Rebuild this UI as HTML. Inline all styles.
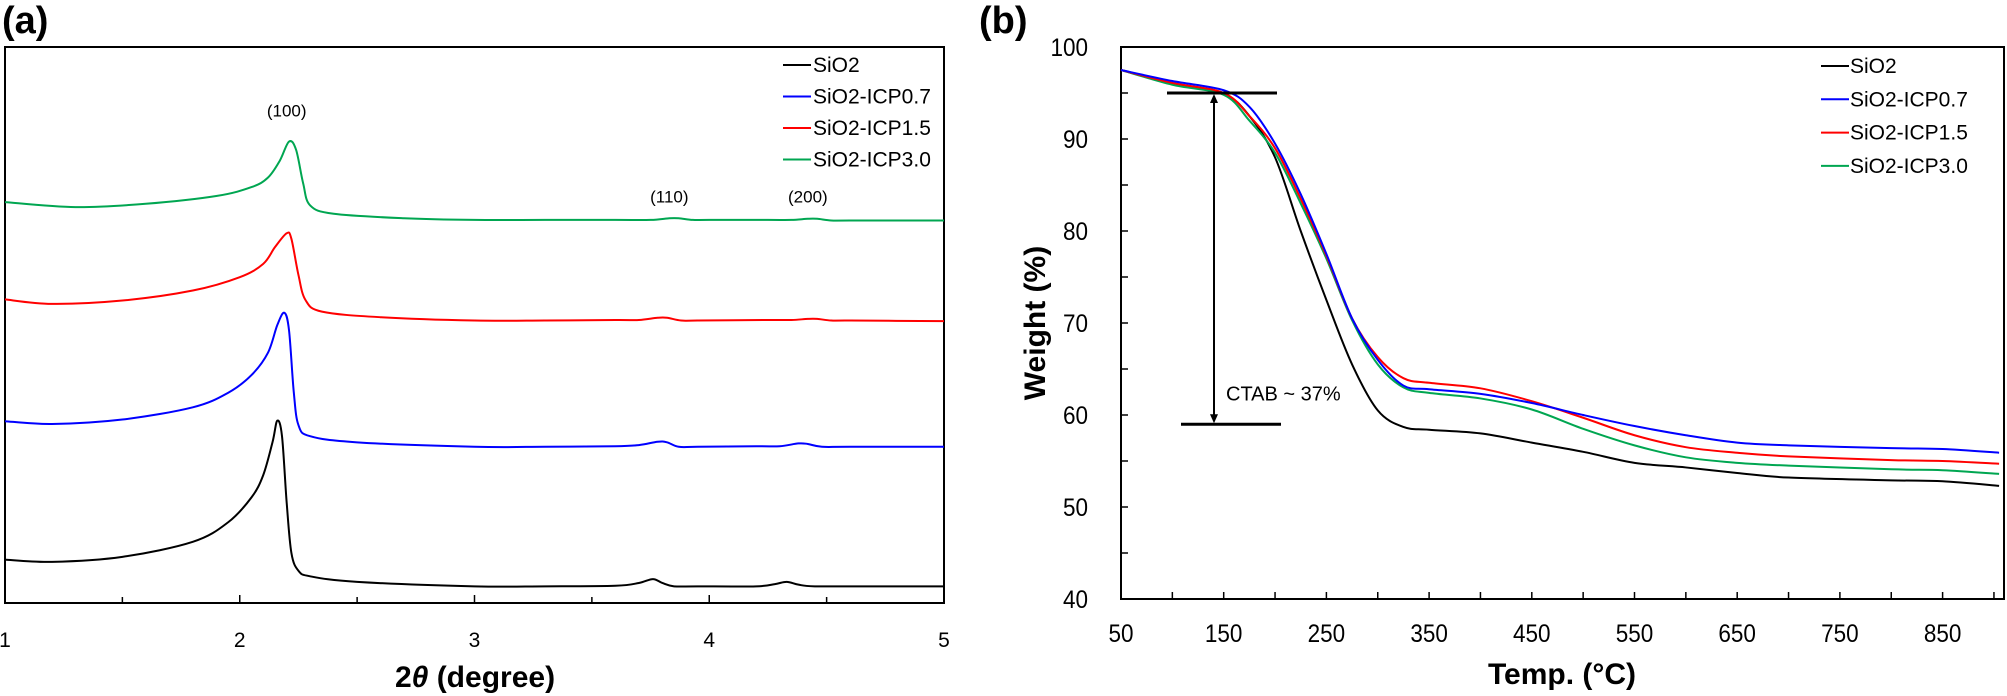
<!DOCTYPE html>
<html><head><meta charset="utf-8">
<style>
html,body{margin:0;padding:0;background:#fff;}
svg{display:block;font-family:"Liberation Sans",Arial,sans-serif;}
</style></head>
<body>
<svg id="fig" width="2007" height="696" viewBox="0 0 2007 696">
  <text x="2" y="33" font-size="38" font-weight="bold">(a)</text>
  <text x="979" y="33" font-size="38" font-weight="bold">(b)</text>
  <g id="pa"></g>
  <g id="pb"></g>
</svg>
<script>
// ---------- Panel (a) XRD data ----------
const xrdTicks = [1, 2, 3, 4, 5];
const xrdNames = ["SiO2", "SiO2-ICP0.7", "SiO2-ICP1.5", "SiO2-ICP3.0"];
const xrdColors = ["#000000", "#0000ff", "#ff0000", "#00a651"];
const xrdX0 = [1.0,1.2,1.5,1.8,1.95,2.05,2.1,2.14,2.16,2.18,2.2,2.22,2.25,2.3,2.5,3.0,3.3,3.6,3.7,3.76,3.8,3.85,3.95,4.2,4.28,4.33,4.38,4.45,4.7,5.0];
const xrdY0 = [7.8,7.4,8.3,11.0,14.5,19,23,29,32.8,30,18,9,5.8,4.8,3.8,3.0,3.0,3.1,3.6,4.3,3.6,3.0,3.0,3.0,3.4,3.8,3.3,3.0,3.0,3.0];
const xrdX1 = [1.0,1.2,1.5,1.8,1.95,2.05,2.12,2.16,2.19,2.21,2.23,2.25,2.3,2.5,3.0,3.3,3.6,3.7,3.78,3.82,3.87,3.95,4.2,4.3,4.38,4.42,4.48,4.6,5.0];
const xrdY1 = [32.7,32.2,33.0,35.2,37.8,41,45,50,52.2,49,38,32,30,28.9,28.1,28.1,28.2,28.4,29.0,28.9,28.1,28.1,28.2,28.2,28.7,28.6,28.1,28.1,28.1];
const xrdX2 = [1.0,1.2,1.5,1.8,2.0,2.1,2.15,2.2,2.22,2.25,2.28,2.35,2.6,3.0,3.3,3.6,3.7,3.78,3.82,3.88,3.95,4.25,4.35,4.42,4.46,4.52,4.6,5.0];
const xrdY2 = [54.6,53.8,54.4,56.2,58.6,61,64,66.5,65.5,59,54.5,52.4,51.4,50.8,50.8,50.9,50.9,51.3,51.3,50.8,50.8,50.9,50.9,51.1,51.1,50.8,50.8,50.7];
const xrdX3 = [1.0,1.3,1.6,1.9,2.05,2.12,2.17,2.21,2.24,2.27,2.3,2.4,2.7,3.0,3.3,3.6,3.75,3.83,3.87,3.93,4.0,4.25,4.35,4.42,4.46,4.52,4.6,5.0];
const xrdY3 = [72.1,71.2,71.8,73.2,74.8,76.5,79.5,83,81.5,75.5,71.5,70.0,69.2,68.9,68.9,68.9,68.9,69.2,69.2,68.9,68.9,68.9,68.9,69.1,69.1,68.8,68.8,68.8];
const xrdPeaks = ["(100)", "(110)", "(200)"];
const xrdPeakX = [2.2, 3.83, 4.42];
const xrdPeakY = [87.5, 72, 72];

// ---------- Panel (b) TGA data ----------
const tgaXTicks = [50,150,250,350,450,550,650,750,850];
const tgaYTicks = [40,50,60,70,80,90,100];
const tgaNames = ["SiO2", "SiO2-ICP0.7", "SiO2-ICP1.5", "SiO2-ICP3.0"];
const tgaColors = ["#000000", "#0000ff", "#ff0000", "#00a651"];
const tgaT = [50,100,150,175,200,225,250,275,300,325,350,400,450,500,550,600,650,700,800,850,905];
const tgaW0 = [97.5,96.0,94.9,92.5,88,80,72.5,65.5,60.5,58.7,58.4,58.0,57.0,56.0,54.8,54.3,53.7,53.2,52.9,52.8,52.3];
const tgaW1 = [97.5,96.3,95.3,93.5,89.5,84,77.5,70.5,66,63.2,62.8,62.3,61.3,60.0,58.8,57.8,57.0,56.7,56.4,56.3,55.9];
const tgaW2 = [97.5,96.1,95.0,92.5,89,83.5,77.3,70.5,66.3,64.0,63.5,62.9,61.5,59.7,57.8,56.5,55.9,55.5,55.1,55.0,54.7];
const tgaW3 = [97.5,95.9,94.8,92,88.5,83,77,70.3,65.5,63,62.4,61.8,60.6,58.5,56.7,55.4,54.8,54.5,54.1,54.0,53.6];
const ctabTop = 95, ctabBottom = 59;

const NS = "http://www.w3.org/2000/svg";
function mk(tag, attrs, parent) {
  const e = document.createElementNS(NS, tag);
  for (const k in attrs) e.setAttribute(k, attrs[k]);
  parent.appendChild(e);
  return e;
}
function smooth(pts) {
  let d = "M" + pts[0][0].toFixed(2) + "," + pts[0][1].toFixed(2);
  for (let i = 0; i < pts.length - 1; i++) {
    const p0 = pts[Math.max(0, i - 1)], p1 = pts[i], p2 = pts[i + 1], p3 = pts[Math.min(pts.length - 1, i + 2)];
    const c1x = p1[0] + (p2[0] - p0[0]) / 6, c1y = p1[1] + (p2[1] - p0[1]) / 6;
    const c2x = p2[0] - (p3[0] - p1[0]) / 6, c2y = p2[1] - (p3[1] - p1[1]) / 6;
    d += " C" + c1x.toFixed(2) + "," + c1y.toFixed(2) + " " + c2x.toFixed(2) + "," + c2y.toFixed(2) + " " + p2[0].toFixed(2) + "," + p2[1].toFixed(2);
  }
  return d;
}

// ===== Panel (a) =====
(function () {
  const g = document.getElementById("pa");
  const L = 5, R = 944, T = 47, B = 603;
  const xs = v => L + (v - 1) / 4 * (R - L);
  const ys = v => B - v / 100 * (B - T);
  const frame = mk("rect", {x: L, y: T, width: R - L, height: B - T, fill: "none", stroke: "#000", "stroke-width": 2}, g);
  
  
  for (let v = 1.5; v < 5; v += 0.5) {
    const major = Math.abs(v - Math.round(v)) < 1e-9;
    const t = mk("line", {x1: xs(v), x2: xs(v), y1: B, y2: B - (major ? 8 : 6), stroke: "#000", "stroke-width": 1.5}, g);
    
    
  }
  xrdTicks.forEach(v => {
    const t = mk("text", {x: xs(v), y: 647, "font-size": 21, "text-anchor": "middle"}, g);
    t.textContent = v;
    
    
  });
  const title = mk("text", {x: 475, y: 687, "font-size": 30, "font-weight": "bold", "text-anchor": "middle"}, g);
  title.innerHTML = '2<tspan font-style="italic">θ</tspan> (degree)';
  
  
  const X = [xrdX0, xrdX1, xrdX2, xrdX3], Y = [xrdY0, xrdY1, xrdY2, xrdY3];
  for (let s = 0; s < 4; s++) {
    const pts = X[s].map((x, i) => [xs(x), ys(Y[s][i])]);
    const p = mk("path", {d: smooth(pts), fill: "none", stroke: xrdColors[s], "stroke-width": 2}, g);
    
    
  }
  xrdPeaks.forEach((lab, i) => {
    const t = mk("text", {x: xs(xrdPeakX[i]), y: ys(xrdPeakY[i]), "font-size": 17, "text-anchor": "middle"}, g);
    t.textContent = lab;
    
    
  });
  xrdNames.forEach((n, i) => {
    const y = 65 + i * 31.5;
    const l = mk("line", {x1: 783, x2: 811, y1: y, y2: y, stroke: xrdColors[i], "stroke-width": 2}, g);
    
    
    const t = mk("text", {x: 813, y: y + 7, "font-size": 21}, g);
    t.textContent = n;
    
    
  });
})();

// ===== Panel (b) =====
(function () {
  const g = document.getElementById("pb");
  const L = 1121, R = 2004, T = 47, B = 599;
  const xs = v => L + (v - 50) * 1.027;
  const ys = v => B - (v - 40) / 60 * (B - T);
  const frame = mk("rect", {x: L, y: T, width: R - L, height: B - T, fill: "none", stroke: "#000", "stroke-width": 2}, g);
  
  
  for (let v = 100; v <= 900; v += 50) {
    const t = mk("line", {x1: xs(v), x2: xs(v), y1: B, y2: B - 7, stroke: "#000", "stroke-width": 1.5}, g);
    
    
  }
  for (let v = 45; v < 100; v += 5) {
    const t = mk("line", {x1: L, x2: L + 7, y1: ys(v), y2: ys(v), stroke: "#000", "stroke-width": 1.5}, g);
    
    
  }
  tgaXTicks.forEach(v => {
    const t = mk("text", {x: xs(v), y: 642, "font-size": 25, "text-anchor": "middle", transform: "translate(" + xs(v) + ",0) scale(0.9,1) translate(" + (-xs(v)) + ",0)"}, g);
    t.textContent = v;
    
    
  });
  tgaYTicks.forEach(v => {
    const t = mk("text", {x: 1088, y: ys(v) + 9, "font-size": 25, "text-anchor": "end", transform: "translate(1088,0) scale(0.9,1) translate(-1088,0)"}, g);
    t.textContent = v;
    
    
  });
  const xt = mk("text", {x: 1562, y: 684, "font-size": 30, "font-weight": "bold", "text-anchor": "middle"}, g);
  xt.textContent = "Temp. (°C)";
  
  
  const yt = mk("text", {x: 0, y: 0, "font-size": 30, "font-weight": "bold", "text-anchor": "middle", transform: "translate(1045,323) rotate(-90)"}, g);
  yt.textContent = "Weight (%)";
  
  
  const W = [tgaW0, tgaW1, tgaW2, tgaW3];
  [0, 3, 2, 1].forEach(s => {
    const pts = tgaT.map((t, i) => [xs(t), ys(W[s][i])]);
    const p = mk("path", {d: smooth(pts), fill: "none", stroke: tgaColors[s], "stroke-width": 2}, g);
    
    
  });
  const b1 = mk("line", {x1: 1167, x2: 1277, y1: ys(ctabTop), y2: ys(ctabTop), stroke: "#000", "stroke-width": 3}, g);
  
  
  const b2 = mk("line", {x1: 1181, x2: 1281, y1: ys(ctabBottom), y2: ys(ctabBottom), stroke: "#000", "stroke-width": 3}, g);
  
  
  const ar = mk("line", {x1: 1214, x2: 1214, y1: ys(ctabTop) + 6, y2: ys(ctabBottom) - 6, stroke: "#000", "stroke-width": 2}, g);
  
  
  const h1 = mk("path", {d: "M1214," + (ys(ctabTop) + 1) + " l-4,9 l8,0 z", fill: "#000"}, g);
  
  
  const h2 = mk("path", {d: "M1214," + (ys(ctabBottom) - 1) + " l-4,-9 l8,0 z", fill: "#000"}, g);
  
  
  const ct = mk("text", {x: 1226, y: ys(61.6), "font-size": 20}, g);
  ct.textContent = "CTAB ~ 37%";
  
  
  tgaNames.forEach((n, i) => {
    const y = 66 + i * 33.3;
    const l = mk("line", {x1: 1821, x2: 1849, y1: y, y2: y, stroke: tgaColors[i], "stroke-width": 2}, g);
    
    
    const t = mk("text", {x: 1850, y: y + 7, "font-size": 21}, g);
    t.textContent = n;
    
    
  });
})();
</script>
</body></html>
